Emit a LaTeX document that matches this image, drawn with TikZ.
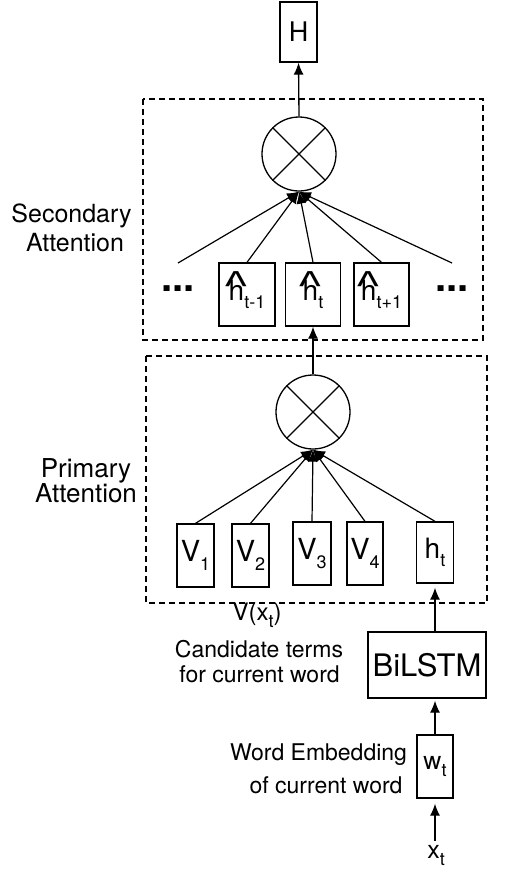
\documentclass[tikz,border=0pt]{standalone}
\usepackage{fontspec}
\setmainfont{TeX Gyre Heros}
\newfontfamily\lib{Liberation Sans}
\usetikzlibrary{arrows.meta}
\newcommand\sbs[1]{\raisebox{-0.3em}{\fontsize{18}{18}\selectfont #1}}
\newcommand\hh{\ooalign{h\cr\hidewidth\raisebox{0pt}{\scalebox{1.1}[1.0]{\lib\fontsize{42}{42}\selectfont\char"5E}}\hidewidth\cr}}
\begin{document}
\begin{tikzpicture}[x=1pt,y=-1pt,
  box/.style={draw, line width=1.3pt, inner sep=0pt, minimum width=37pt, minimum height=62pt, font=\fontsize{29}{29}\selectfont},
  mult/.style={draw, circle, line width=1.3pt, minimum size=74pt, inner sep=0pt},
  lbl/.style={anchor=base, inner sep=0pt, font=\fontsize{25}{25}\selectfont},
  small/.style={anchor=base, inner sep=0pt, font=\fontsize{23}{23}\selectfont},
  dots/.style={anchor=base, inner sep=0pt, font=\fontsize{40}{40}\selectfont\bfseries},
  frame/.style={draw, dash pattern=on 6pt off 4pt, line width=1.3pt},
  arr/.style={line width=1.3pt, -{Latex[length=12pt,width=10pt]}},
  conv/.style={line width=1.2pt, -{Latex[length=12pt,width=10pt]}},
  crossline/.style={line width=1.1pt}
]
\useasboundingbox (0,0) rectangle (508,870);

% ---------- top ----------
\node[box, minimum width=37pt, minimum height=60pt, font=\fontsize{27}{27}\selectfont] (H) at (298.5,32) {H};

% ---------- secondary attention ----------
\draw[frame] (143,99) rectangle (483,340);
\node[mult] (c2) at (299,154) {};
\draw[crossline] (c2.north east) -- (c2.south west) (c2.north west) -- (c2.south east);
\draw[arr] (c2.north) -- (H.south);

\node[box, minimum width=56pt, minimum height=63pt, font=\fontsize{28}{28}\selectfont] (hp) at (247,294.5) {\hh\sbs{t-1}};
\node[box, minimum width=55pt, minimum height=63pt, font=\fontsize{28}{28}\selectfont] (hc) at (313,294.5) {\hh\sbs{t}};
\node[box, minimum width=55pt, minimum height=63pt, font=\fontsize{28}{28}\selectfont] (hn) at (381.5,294.5) {\hh\sbs{t+1}};
\node[dots] (dL) at (178,291) {...};
\node[dots] (dR) at (452,291) {...};
\coordinate (eL) at (178,263);
\coordinate (eR) at (452,263);
\draw[conv] (eL) -- (c2.south);
\draw[conv] (eR) -- (c2.south);
\foreach \s in {hp,hc,hn} \draw[conv] (\s.north) -- (c2.south);
\node[lbl] (sec1) at (71.5,222) {Secondary};
\node[lbl] (sec2) at (75,251) {Attention};

% ---------- primary attention ----------
\draw[frame] (146,356) rectangle (487,603);
\node[mult] (c1) at (313,412) {};
\draw[crossline] (c1.north east) -- (c1.south west) (c1.north west) -- (c1.south east);
\draw[arr] (c1.north) -- (hc.south);

\node[box, minimum width=37pt, minimum height=63pt] (v1) at (195.5,555.5) {V\sbs{1}};
\node[box, minimum width=37pt, minimum height=63pt] (v2) at (250.5,555.5) {V\sbs{2}};
\node[box, minimum width=38pt, minimum height=63pt] (v3) at (312,553.5) {V\sbs{3}};
\node[box, minimum width=36pt, minimum height=63pt] (v4) at (365,553.5) {V\sbs{4}};
\node[box, minimum width=37pt, minimum height=61pt, font=\fontsize{28}{28}\selectfont] (ht) at (435,552.5) {h\sbs{t}};
\foreach \s in {v1,v2,v3,v4,ht} \draw[conv] (\s.north) -- (c1.south);
\node[lbl, font=\fontsize{26}{26}\selectfont] (pri1) at (86,477) {Primary};
\node[lbl, font=\fontsize{26}{26}\selectfont] (pri2) at (86,502) {Attention};

% ---------- lower part ----------
\node[small, font=\fontsize{24}{24}\selectfont] (vx) at (257,620) {V(x\sbs{t})};
\node[small] (cand1) at (259,657) {Candidate terms};
\node[small] (cand2) at (259.5,682) {for current word};

\node[box, minimum width=118pt, minimum height=66pt, font=\fontsize{31}{31}\selectfont] (bl) at (427,665) {BiLSTM};
\draw[arr, shorten >=4pt] (ht.south |- bl.north) -- (ht.south);

\node[box, minimum width=36pt, minimum height=63pt, font=\fontsize{25}{25}\selectfont] (wt) at (435,766.5) {w\sbs{t}};
\draw[arr, shorten >=2pt] (wt.north) -- (wt.north |- bl.south);
\node[small] (we1) at (318.5,760) {Word Embedding};
\node[small] (we2) at (326,793) {of current word};

\node[small, font=\fontsize{25}{25}\selectfont] (xt) at (436,858) {x\sbs{t}};
\draw[arr, shorten >=5pt, shorten <=4pt] (xt.north -| wt.south) -- (wt.south);
\end{tikzpicture}
\end{document}
